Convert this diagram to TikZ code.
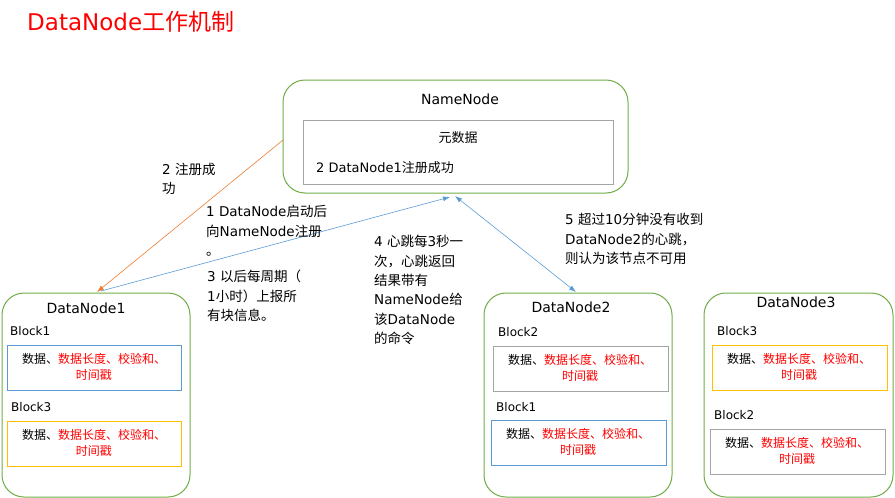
\documentclass[tikz,border=0pt]{standalone}
\usepackage{fontspec}
\usetikzlibrary{arrows.meta}
\setmainfont{DejaVu Sans}
\newfontfamily\cjkf{Noto Sans CJK SC}
\newcount\cjkcc
\cjkcc="4E00 \loop \XeTeXcharclass\cjkcc=1 \advance\cjkcc by 1 \ifnum\cjkcc<"A000 \repeat
\cjkcc="3000 \loop \XeTeXcharclass\cjkcc=1 \advance\cjkcc by 1 \ifnum\cjkcc<"3040 \repeat
\cjkcc="FF00 \loop \XeTeXcharclass\cjkcc=1 \advance\cjkcc by 1 \ifnum\cjkcc<"FFF0 \repeat
\XeTeXinterchartokenstate=1
\XeTeXinterchartoks 0 1 {\cjkf}
\XeTeXinterchartoks 4095 1 {\cjkf}
\XeTeXinterchartoks 1 0 {\normalfont}
\definecolor{gr}{RGB}{112,173,71}
\definecolor{bl}{RGB}{91,155,213}
\definecolor{or}{RGB}{237,125,49}
\definecolor{yl}{RGB}{255,192,0}
\definecolor{gy}{RGB}{165,165,165}
\begin{document}
\begin{tikzpicture}[x=1pt,y=-1pt,
  outer/.style={draw=gr,line width=1pt,rounded corners=22pt},
  blk/.style={line width=0.8pt},
  lbl/.style={anchor=west,font=\fontsize{13.5}{19.3}\selectfont,align=left,inner sep=0},
  bt/.style={anchor=west,font=\fontsize{12}{14}\selectfont,inner sep=0},
  bx/.style={font=\fontsize{12}{16}\selectfont,align=center,inner sep=0},
  arr/.style={-{Latex[length=7pt,width=5pt]},line width=0.6pt}]
\useasboundingbox (0,0) rectangle (895,498);
\node[anchor=west,text=red,font=\fontsize{23}{26}\selectfont,inner sep=0] (title) at (27,22) {DataNode工作机制};
% NameNode
\draw[outer] (283,80) rectangle (628,193);
\node[font=\fontsize{14}{15}\selectfont] (nnt) at (460,99) {NameNode};
\draw[draw=gy,line width=0.8pt] (303,120) rectangle (613,184);
\node[font=\fontsize{13}{14}\selectfont] (meta) at (458,138) {元数据};
\node[bt,font=\fontsize{13}{14}\selectfont] (reg) at (316,168) {2 DataNode1注册成功};
\coordinate (nnL) at (283,140);
\coordinate (nnB1) at (450,197);
\coordinate (nnB2) at (455,196);
% DataNode1
\draw[outer] (2,293) rectangle (190,497);
\node[font=\fontsize{14}{15}\selectfont] (d1t) at (86,308) {DataNode1};
\node[bt] (d1b1) at (10,331) {Block1};
\draw[blk,draw=bl] (7,345) rectangle (181,390);
\node[bx] (d1x1) at (94,367) {数据、\textcolor{red}{数据长度、校验和、}\\\textcolor{red}{时间戳}};
\node[bt] (d1b3) at (11,407) {Block3};
\draw[blk,draw=yl] (7,421) rectangle (181,466);
\node[bx] (d1x3) at (94,443) {数据、\textcolor{red}{数据长度、校验和、}\\\textcolor{red}{时间戳}};
\coordinate (d1a) at (97,292);
\coordinate (d1b) at (101,291);
% DataNode2
\draw[outer] (484,293) rectangle (672,497);
\node[font=\fontsize{14}{15}\selectfont] (d2t) at (571,307) {DataNode2};
\node[bt] (d2b2) at (498,332) {Block2};
\draw[blk,draw=gy] (493,346) rectangle (668,391);
\node[bx] (d2x2) at (580,368) {数据、\textcolor{red}{数据长度、校验和、}\\\textcolor{red}{时间戳}};
\node[bt] (d2b1) at (496,407) {Block1};
\draw[blk,draw=bl] (491,420) rectangle (666,465);
\node[bx] (d2x1) at (578,442) {数据、\textcolor{red}{数据长度、校验和、}\\\textcolor{red}{时间戳}};
\coordinate (d2a) at (576,292);
% DataNode3
\draw[outer] (704,293) rectangle (893,497);
\node[font=\fontsize{14}{15}\selectfont] (d3t) at (796,302) {DataNode3};
\node[bt] (d3b3) at (717,331) {Block3};
\draw[blk,draw=yl] (712,345) rectangle (887,390);
\node[bx] (d3x3) at (799,367) {数据、\textcolor{red}{数据长度、校验和、}\\\textcolor{red}{时间戳}};
\node[bt] (d3b2) at (714,415) {Block2};
\draw[blk,draw=gy] (710,429) rectangle (885,474);
\node[bx] (d3x2) at (797,451) {数据、\textcolor{red}{数据长度、校验和、}\\\textcolor{red}{时间戳}};
% arrows
\draw[arr,draw=or] (nnL) -- (d1a);
\draw[arr,draw=bl] (d1b) -- (nnB1);
\draw[{Latex[length=7pt,width=5pt]}-{Latex[length=7pt,width=5pt]},line width=0.6pt,draw=bl] (nnB2) -- (d2a);
% labels
\node[lbl] (l2) at (162,179) {2 注册成\\功};
\node[lbl] (l1) at (206,231) {1 DataNode启动后\\向NameNode注册\\。};
\node[lbl] (l3) at (207,296) {3 以后每周期（\\1小时）上报所\\有块信息。};
\node[lbl] (l4) at (374,290) {4 心跳每3秒一\\次，心跳返回\\结果带有\\NameNode给\\该DataNode\\的命令};
\node[lbl] (l5) at (565,239) {5 超过10分钟没有收到\\DataNode2的心跳，\\则认为该节点不可用};
\end{tikzpicture}
\end{document}
